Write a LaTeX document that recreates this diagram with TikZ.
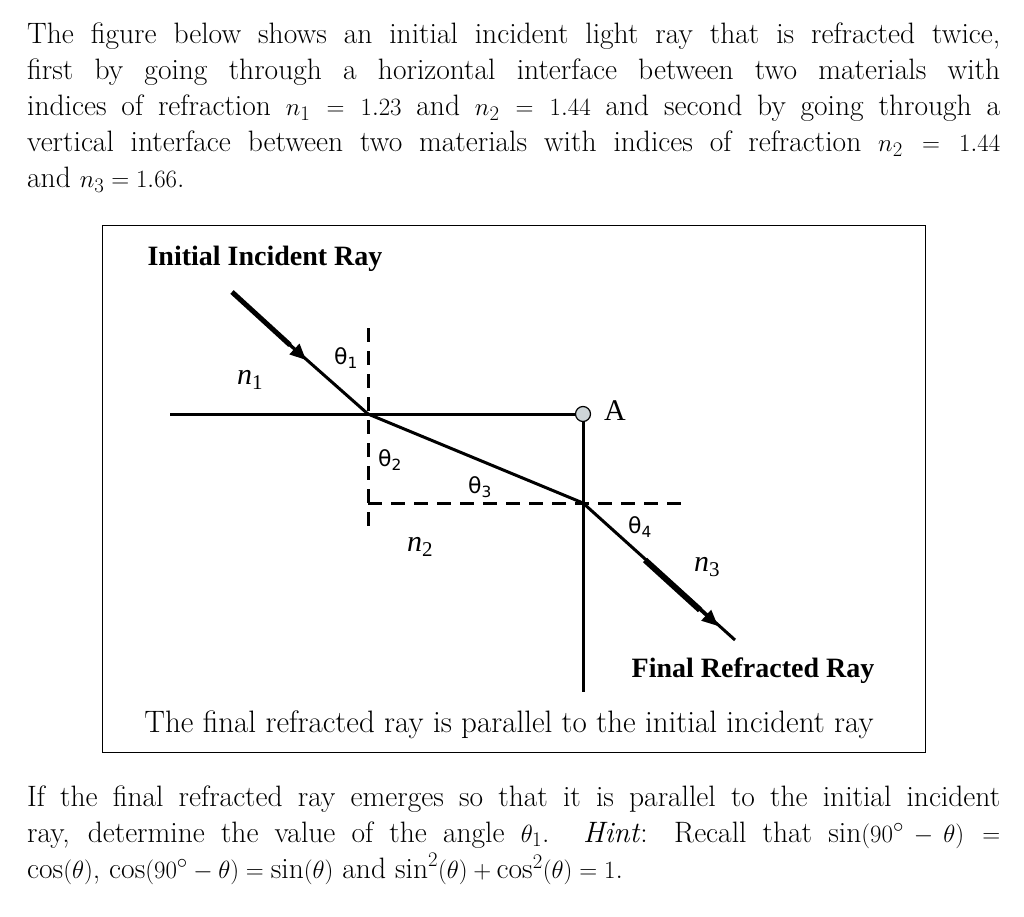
\documentclass[tikz,border=0pt]{standalone}
\usepackage{fontspec}
\newfontfamily\tms{Liberation Serif}
\newfontfamily\sns{DejaVu Sans}
\usetikzlibrary{arrows.meta}
\begin{document}
\begin{tikzpicture}[x=1pt,y=-1pt,
  txt/.style={anchor=base west,inner sep=0pt,font=\fontsize{29.5}{36}\selectfont},
  lab/.style={inner sep=0pt,font=\tms\fontsize{30}{34}\selectfont},
  ang/.style={inner sep=0pt,font=\sns\fontsize{22}{26}\selectfont},
  ray/.style={line width=3pt},
  dsh/.style={line width=3pt,dash pattern=on 14pt off 9pt}]
\useasboundingbox (0,0) rectangle (1024,917);
\node[txt] (l1) at (27,44) {\makebox[973pt][s]{The figure below shows an initial incident light ray that is refracted twice,}};
\node[txt] (l2) at (27,80) {\makebox[973pt][s]{first by going through a horizontal interface between two materials with}};
\node[txt] (l3) at (27,116) {\makebox[973pt][s]{indices of refraction $n_1=1.23$ and $n_2=1.44$ and second by going through a}};
\node[txt] (l4) at (27,152) {\makebox[973pt][s]{vertical interface between two materials with indices of refraction $n_2=1.44$}};
\node[txt] (l5) at (27,188) {and $n_3=1.66$.};
\node[txt] (b1) at (27,806) {\makebox[973pt][s]{If the final refracted ray emerges so that it is parallel to the initial incident}};
\node[txt] (b2) at (27,842) {\makebox[973pt][s]{ray, determine the value of the angle $\theta_1$. \textit{Hint}: Recall that $\sin(90^\circ-\theta)=$}};
\node[txt] (b3) at (27,878) {$\cos(\theta)$, $\cos(90^\circ-\theta)=\sin(\theta)$ and $\sin^2(\theta)+\cos^2(\theta)=1$.};
\draw[line width=1pt] (102,226) rectangle (925,752);
% interfaces
\coordinate (h0) at (170,414);
\coordinate (P) at (368,414);
\coordinate (A) at (583,414);
\coordinate (Q) at (583,503);
\coordinate (vb) at (583,692);
\draw[ray] (h0) -- (A);
\draw[ray] (A) -- (vb);
\draw[dsh] (368,328) -- (368,530);
\draw[dsh] (368,503) -- (690,503);
\node[circle,draw,line width=1.2pt,fill=cyan!15!gray!40,minimum size=15pt,inner sep=0pt] (Ac) at (A) {};
\node[lab,anchor=west] (Al) at (604,411) {A};
% rays
\coordinate (s) at (232,292);
\coordinate (e) at (735,640);
\draw[line width=5pt] (s) -- (290,345);
\draw[ray] (290,345) -- (P);
\draw[-{Triangle[length=16pt,width=14pt]},line width=3pt] (285,340) -- (306,360);
\draw[ray] (P) -- (Q);
\draw[ray] (Q) -- (e);
\draw[line width=6pt] (645,560) -- (700,610);
\draw[-{Triangle[length=16pt,width=14pt]},line width=3pt] (695,605) -- (718,626);
% labels
\node[lab,font=\tms\bfseries\fontsize{28}{32}\selectfont] (ir) at (265,259) {Initial Incident Ray};
\node[lab,font=\tms\bfseries\fontsize{28}{32}\selectfont] (fr) at (753,671) {Final Refracted Ray};
\node[inner sep=0pt,font=\fontsize{31}{36}\selectfont] (cap) at (509,725) {The final refracted ray is parallel to the initial incident ray};
\node[ang] (t1) at (346,358) {θ\textsubscript{1}};
\node[ang] (t2) at (390,460) {θ\textsubscript{2}};
\node[ang] (t3) at (480,487) {θ\textsubscript{3}};
\node[ang] (t4) at (640,527) {θ\textsubscript{4}};
\node[lab] (n1) at (250,380) {\textit{n}\textsubscript{1}};
\node[lab] (n2) at (420,547) {\textit{n}\textsubscript{2}};
\node[lab] (n3) at (707,567) {\textit{n}\textsubscript{3}};
\end{tikzpicture}
\end{document}
